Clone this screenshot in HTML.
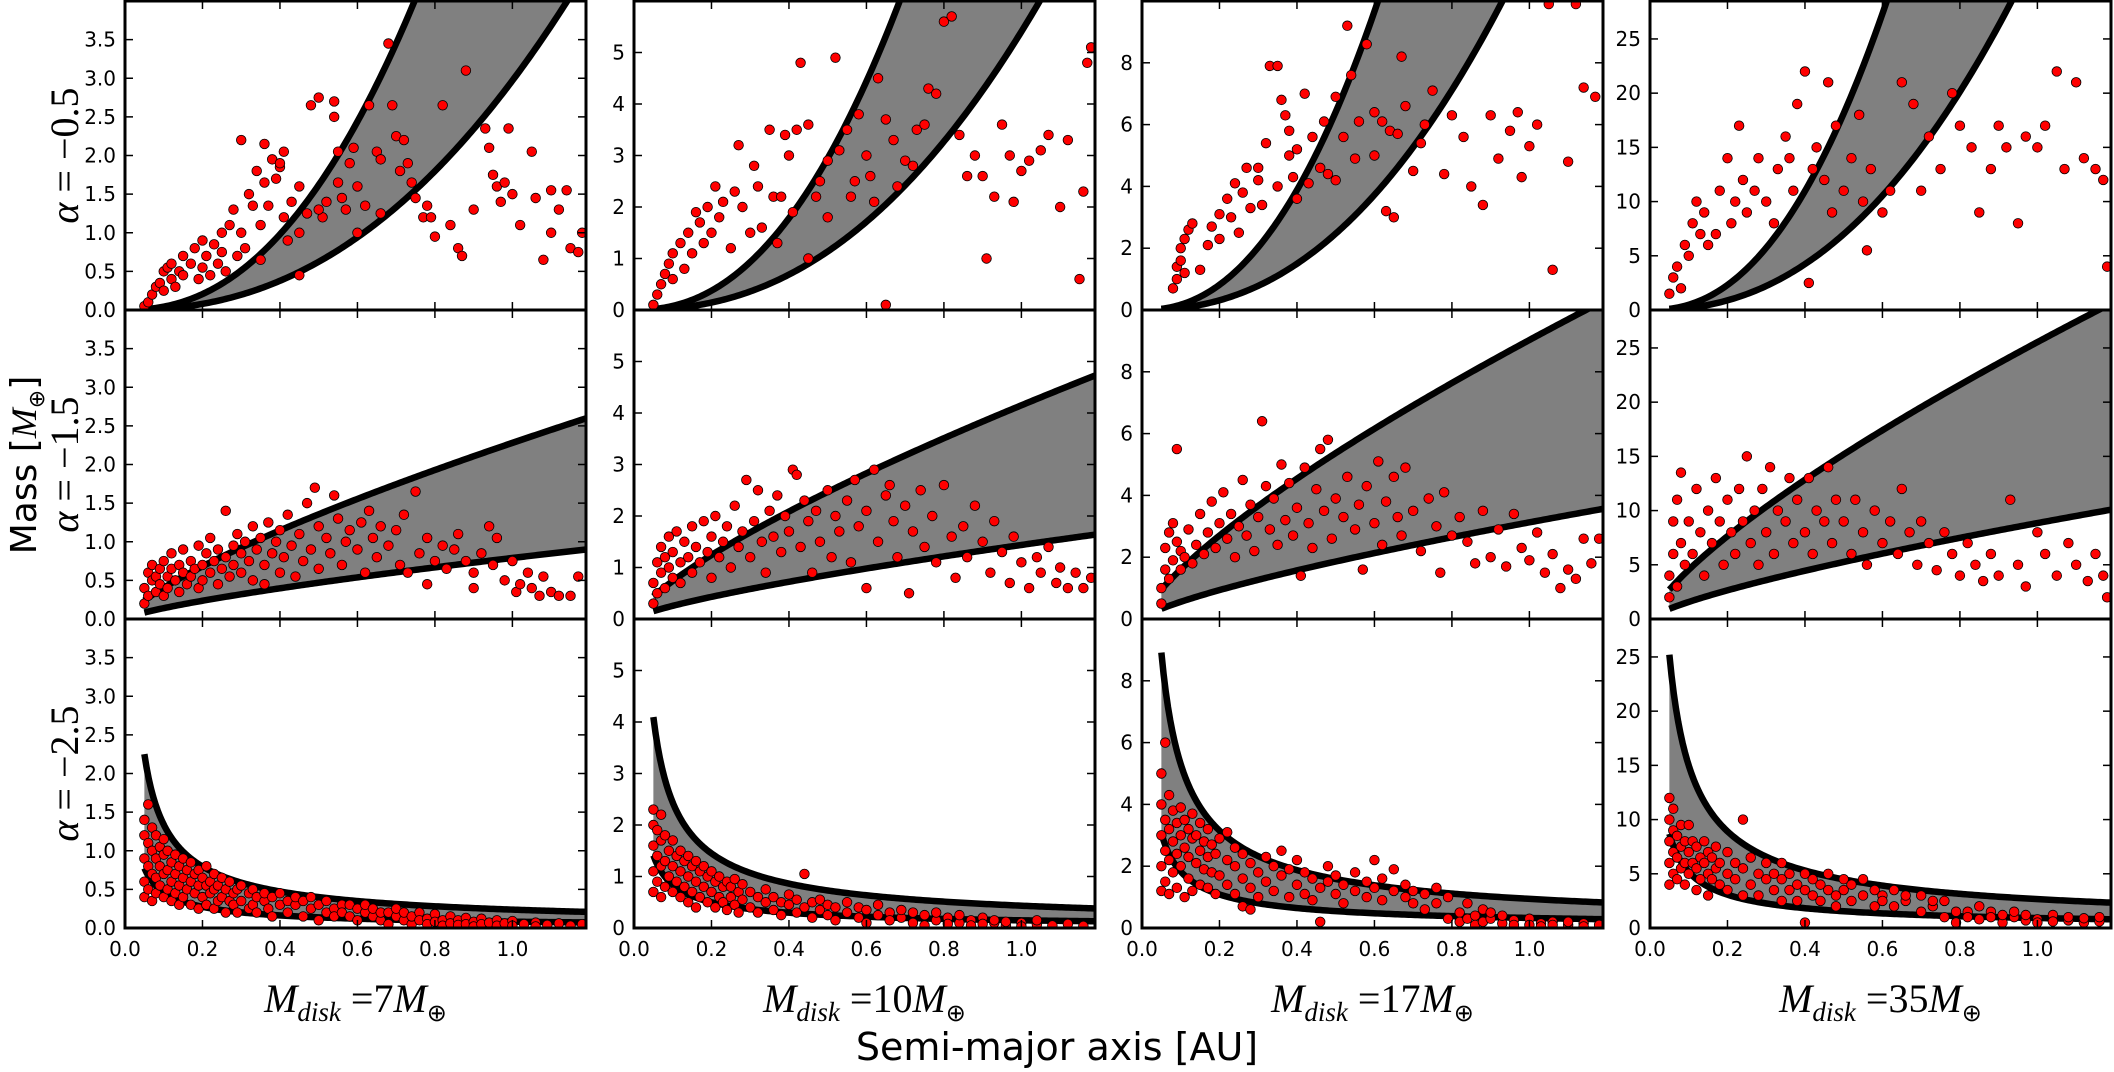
<!DOCTYPE html>
<html><head><meta charset="utf-8"><style>
html,body{margin:0;padding:0;background:#fff;}
svg{display:block;}
</style></head><body>
<svg id="chart" width="2114" height="1072" viewBox="0 0 2114 1072" xmlns="http://www.w3.org/2000/svg" font-family="'DejaVu Sans','Liberation Sans',sans-serif">
<text x="0" y="0" transform="translate(36,465) rotate(-90)" text-anchor="middle" font-size="36">Mass [<tspan font-family="'Liberation Serif',serif" font-style="italic">M</tspan><tspan font-family="'DejaVu Sans',serif" font-size="22" dy="8">⊕</tspan><tspan dy="-8">]</tspan></text>
<text x="1057" y="1060" text-anchor="middle" font-size="38">Semi-major axis [AU]</text>
</svg>
<script>
const NS="http://www.w3.org/2000/svg";
const svg=document.getElementById('chart');
// ---------- data ----------
const colMdisk=["7","10","17","35"];
const rowAlpha=["−0.5","−1.5","−2.5"];
const yMax=[4,6,10,28.5];
const yTickVals=[[0,0.5,1,1.5,2,2.5,3,3.5],[0,1,2,3,4,5],[0,2,4,6,8],[0,5,10,15,20,25]];
const yTickLabels=[["0.0","0.5","1.0","1.5","2.0","2.5","3.0","3.5"],["0","1","2","3","4","5"],["0","2","4","6","8"],["0","5","10","15","20","25"]];
const xTickVals=[0,0.2,0.4,0.6,0.8,1.0];
const xTickLabels=["0.0","0.2","0.4","0.6","0.8","1.0"];
const xMax=1.19;
const bandExponent=[2.25,0.75,-0.75];
const bandUpperK=[7.7,2.28,0.238];
const bandLowerK=[2.97,0.79,0.082];
const colScale=[1,1.82,3.96,11.2];
const aMin=0.05;

const p11=[[0.05,0.05],[0.06,0.1],[0.07,0.2],[0.08,0.3],[0.09,0.35],[0.1,0.5],[0.1,0.25],[0.11,0.55],[0.12,0.6],[0.12,0.4],[0.13,0.3],[0.14,0.5],[0.15,0.45],[0.15,0.7],[0.17,0.6],[0.18,0.8],[0.19,0.4],[0.2,0.9],[0.2,0.55],[0.21,0.7],[0.22,0.45],[0.23,0.85],[0.24,0.6],[0.25,1.0],[0.25,0.75],[0.26,0.5],[0.27,1.1],[0.28,1.3],[0.29,0.7],[0.3,1.0],[0.3,2.2],[0.31,0.8],[0.32,1.5],[0.33,1.35],[0.34,1.8],[0.35,1.1],[0.35,0.65],[0.36,2.15],[0.36,1.65],[0.37,1.35],[0.38,1.95],[0.39,1.7],[0.4,1.85],[0.4,1.9],[0.41,2.05],[0.41,1.2],[0.42,0.9],[0.43,1.4],[0.45,1.6],[0.45,1.0],[0.47,1.25],[0.48,2.65],[0.5,2.75],[0.51,1.2],[0.52,1.4],[0.54,2.7],[0.54,2.5],[0.55,2.05],[0.55,1.65],[0.56,1.45],[0.57,1.3],[0.58,1.9],[0.59,2.1],[0.6,1.6],[0.62,1.35],[0.63,2.65],[0.65,2.05],[0.66,1.95],[0.66,1.25],[0.68,3.45],[0.69,2.65],[0.7,2.25],[0.71,1.8],[0.72,2.2],[0.73,1.9],[0.74,1.65],[0.75,1.45],[0.77,1.2],[0.78,1.35],[0.79,1.2],[0.8,0.95],[0.82,2.65],[0.84,1.1],[0.86,0.8],[0.87,0.7],[0.88,3.1],[0.93,2.35],[0.94,2.1],[0.95,1.75],[0.96,1.6],[0.97,1.4],[0.98,1.65],[0.99,2.35],[1.0,1.5],[1.02,1.1],[1.05,2.05],[1.06,1.45],[1.08,0.65],[1.1,1.55],[1.12,1.3],[1.14,1.55],[1.15,0.8],[1.17,0.75],[1.18,1.0],[1.1,1.0],[0.9,1.3],[0.6,1.0],[0.5,1.3],[0.45,0.45]];
const p12=[[0.05,0.1],[0.06,0.3],[0.07,0.5],[0.08,0.7],[0.09,0.9],[0.1,0.6],[0.1,1.1],[0.12,1.3],[0.13,0.8],[0.14,1.5],[0.15,1.1],[0.16,1.9],[0.17,1.7],[0.18,1.3],[0.19,2.0],[0.2,1.5],[0.21,2.4],[0.22,1.8],[0.23,2.1],[0.25,1.2],[0.26,2.3],[0.27,3.2],[0.28,2.0],[0.3,1.5],[0.31,2.8],[0.32,2.4],[0.33,1.6],[0.35,3.5],[0.36,2.2],[0.37,1.3],[0.38,2.2],[0.39,3.4],[0.4,3.0],[0.41,1.9],[0.42,3.5],[0.43,4.8],[0.45,3.6],[0.45,1.0],[0.47,2.2],[0.48,2.5],[0.5,2.9],[0.5,1.8],[0.52,4.9],[0.53,3.1],[0.55,3.5],[0.56,2.2],[0.57,2.5],[0.58,3.8],[0.6,3.0],[0.61,2.6],[0.62,2.1],[0.63,4.5],[0.65,3.7],[0.65,0.1],[0.67,3.3],[0.68,2.4],[0.7,2.9],[0.72,2.8],[0.73,3.5],[0.75,3.6],[0.76,4.3],[0.78,4.2],[0.8,5.6],[0.82,5.7],[0.84,3.4],[0.86,2.6],[0.88,3.0],[0.9,2.6],[0.91,1.0],[0.93,2.2],[0.95,3.6],[0.97,3.0],[0.98,2.1],[1.0,2.7],[1.02,2.9],[1.05,3.1],[1.07,3.4],[1.1,2.0],[1.12,3.3],[1.15,0.6],[1.17,4.8],[1.18,5.1],[1.16,2.3]];
const p13=[[0.08,0.7],[0.09,1.0],[0.09,1.4],[0.1,1.6],[0.1,2.0],[0.11,2.3],[0.12,2.6],[0.13,2.8],[0.11,1.2],[0.15,1.3],[0.17,2.1],[0.18,2.7],[0.2,3.1],[0.2,2.3],[0.22,3.6],[0.23,3.0],[0.24,4.1],[0.25,2.5],[0.26,3.8],[0.27,4.6],[0.28,3.3],[0.3,4.2],[0.3,4.6],[0.31,3.4],[0.32,5.4],[0.33,7.9],[0.35,7.9],[0.35,4.0],[0.36,6.8],[0.37,6.3],[0.38,5.8],[0.38,5.0],[0.39,4.3],[0.4,3.6],[0.4,5.2],[0.42,7.0],[0.43,4.1],[0.44,5.6],[0.46,4.6],[0.47,6.1],[0.48,4.4],[0.5,6.9],[0.5,4.2],[0.52,5.6],[0.53,9.2],[0.54,7.6],[0.55,4.9],[0.56,6.1],[0.58,8.6],[0.6,6.4],[0.6,5.0],[0.62,6.1],[0.63,3.2],[0.64,5.8],[0.65,3.0],[0.66,5.7],[0.67,8.2],[0.68,6.6],[0.7,4.5],[0.72,5.4],[0.73,6.0],[0.75,7.1],[0.78,4.4],[0.8,6.3],[0.83,5.6],[0.85,4.0],[0.88,3.4],[0.9,6.3],[0.92,4.9],[0.95,5.8],[0.97,6.4],[0.98,4.3],[1.0,5.3],[1.02,6.0],[1.05,9.9],[1.06,1.3],[1.1,4.8],[1.14,7.2],[1.17,6.9],[1.12,9.9]];
const p14=[[0.05,1.5],[0.06,3],[0.07,4],[0.08,2],[0.09,6],[0.1,5],[0.11,8],[0.12,10],[0.13,7],[0.14,9],[0.15,6],[0.17,7],[0.18,11],[0.2,14],[0.21,8],[0.22,10],[0.23,17],[0.24,12],[0.25,9],[0.27,11],[0.28,14],[0.3,10],[0.32,8],[0.33,13],[0.35,16],[0.36,14],[0.37,11],[0.38,19],[0.4,22],[0.41,2.5],[0.42,13],[0.43,15],[0.45,12],[0.46,21],[0.47,9],[0.48,17],[0.5,11],[0.52,14],[0.54,18],[0.55,10],[0.56,5.5],[0.57,13],[0.6,9],[0.62,11],[0.65,21],[0.68,19],[0.7,11],[0.72,16],[0.75,13],[0.78,20],[0.8,17],[0.83,15],[0.85,9],[0.88,13],[0.9,17],[0.92,15],[0.95,8],[0.97,16],[1.0,15],[1.02,17],[1.05,22],[1.07,13],[1.1,21],[1.12,14],[1.15,13],[1.17,12],[1.18,4]];
const p21=[[0.05,0.2],[0.05,0.4],[0.06,0.6],[0.06,0.3],[0.07,0.5],[0.07,0.7],[0.08,0.35],[0.08,0.55],[0.09,0.65],[0.09,0.45],[0.1,0.3],[0.1,0.75],[0.11,0.55],[0.11,0.4],[0.12,0.65],[0.12,0.85],[0.13,0.5],[0.14,0.7],[0.14,0.35],[0.15,0.6],[0.15,0.9],[0.16,0.45],[0.17,0.75],[0.17,0.55],[0.18,0.65],[0.19,0.95],[0.19,0.4],[0.2,0.7],[0.2,0.5],[0.21,0.85],[0.22,0.6],[0.22,1.05],[0.23,0.75],[0.24,0.45],[0.24,0.9],[0.25,0.65],[0.26,1.4],[0.26,0.8],[0.27,0.55],[0.28,0.95],[0.28,0.7],[0.29,1.1],[0.3,0.6],[0.3,0.85],[0.31,1.0],[0.32,0.75],[0.33,1.2],[0.33,0.5],[0.34,0.9],[0.35,1.05],[0.36,0.7],[0.36,0.45],[0.37,1.25],[0.38,0.85],[0.39,1.0],[0.4,0.6],[0.4,1.15],[0.41,0.8],[0.42,1.35],[0.43,0.95],[0.44,0.55],[0.45,1.1],[0.46,0.75],[0.47,1.5],[0.48,0.9],[0.49,1.7],[0.5,1.2],[0.5,0.65],[0.52,1.05],[0.53,0.85],[0.54,1.6],[0.55,1.3],[0.56,0.7],[0.57,1.0],[0.58,1.15],[0.6,0.9],[0.61,1.25],[0.62,0.6],[0.63,1.4],[0.64,1.05],[0.65,0.8],[0.66,1.2],[0.68,0.95],[0.7,1.15],[0.71,0.7],[0.72,1.35],[0.73,0.6],[0.75,1.65],[0.76,0.85],[0.78,1.05],[0.8,0.75],[0.82,0.95],[0.83,0.65],[0.85,0.9],[0.86,1.1],[0.88,0.75],[0.9,0.6],[0.92,0.85],[0.94,1.2],[0.95,0.7],[0.96,1.05],[0.98,0.5],[1.0,0.75],[1.01,0.35],[1.02,0.45],[1.04,0.6],[1.05,0.4],[1.07,0.3],[1.08,0.55],[1.1,0.35],[1.12,0.3],[1.15,0.3],[1.17,0.55],[0.9,0.4],[0.78,0.45]];
const p22=[[0.05,0.3],[0.05,0.7],[0.06,1.1],[0.06,0.5],[0.07,1.4],[0.07,0.9],[0.08,1.2],[0.08,0.6],[0.09,1.6],[0.09,1.0],[0.1,0.8],[0.1,1.3],[0.11,1.7],[0.12,1.1],[0.12,0.7],[0.13,1.5],[0.14,1.2],[0.15,1.8],[0.15,0.9],[0.16,1.4],[0.17,1.1],[0.18,1.9],[0.19,1.3],[0.2,1.6],[0.2,0.8],[0.21,2.0],[0.22,1.2],[0.23,1.5],[0.24,1.8],[0.25,1.0],[0.26,2.2],[0.27,1.4],[0.28,1.7],[0.29,2.7],[0.3,1.2],[0.31,1.9],[0.32,2.5],[0.33,1.5],[0.34,0.9],[0.35,2.1],[0.36,1.6],[0.37,2.4],[0.38,1.3],[0.39,2.0],[0.4,1.7],[0.41,2.9],[0.42,2.8],[0.43,1.4],[0.44,2.3],[0.45,1.9],[0.46,0.9],[0.47,2.1],[0.48,1.5],[0.5,2.5],[0.51,1.2],[0.52,2.0],[0.53,1.7],[0.55,2.3],[0.56,1.1],[0.57,2.7],[0.58,1.8],[0.6,2.1],[0.6,0.6],[0.62,2.9],[0.63,1.5],[0.65,2.4],[0.66,2.6],[0.67,1.9],[0.68,1.2],[0.7,2.2],[0.71,0.5],[0.72,1.7],[0.74,2.5],[0.75,1.4],[0.77,2.0],[0.78,1.1],[0.8,2.6],[0.82,1.6],[0.83,0.8],[0.85,1.8],[0.86,1.2],[0.88,2.2],[0.9,1.5],[0.92,0.9],[0.93,1.9],[0.95,1.3],[0.97,0.7],[0.98,1.6],[1.0,1.1],[1.02,0.6],[1.04,1.2],[1.05,0.9],[1.07,1.4],[1.09,0.7],[1.1,1.0],[1.12,0.6],[1.14,0.9],[1.16,0.6],[1.18,0.8]];
const p23=[[0.05,0.5],[0.05,1.0],[0.06,1.6],[0.06,2.3],[0.07,1.3],[0.07,2.8],[0.08,1.9],[0.08,3.1],[0.09,5.5],[0.09,2.5],[0.1,1.6],[0.1,2.2],[0.11,2.0],[0.12,2.9],[0.13,1.8],[0.14,2.4],[0.15,3.4],[0.16,2.1],[0.17,2.8],[0.18,3.8],[0.19,2.3],[0.2,3.1],[0.21,4.1],[0.22,2.6],[0.23,3.4],[0.24,2.0],[0.25,3.0],[0.26,4.5],[0.27,2.7],[0.28,3.7],[0.29,2.2],[0.3,3.3],[0.31,6.4],[0.32,4.3],[0.33,2.9],[0.34,3.9],[0.35,2.4],[0.36,5.0],[0.37,3.2],[0.38,4.4],[0.39,2.7],[0.4,3.6],[0.41,1.4],[0.42,4.9],[0.43,3.1],[0.44,2.3],[0.45,4.2],[0.46,5.5],[0.47,3.5],[0.48,5.8],[0.49,2.6],[0.5,3.9],[0.52,3.3],[0.53,4.6],[0.55,2.9],[0.56,3.7],[0.57,1.6],[0.58,4.3],[0.6,3.1],[0.61,5.1],[0.62,2.4],[0.63,3.8],[0.65,4.6],[0.66,3.3],[0.67,2.7],[0.68,4.9],[0.7,3.5],[0.72,2.2],[0.74,3.9],[0.76,3.0],[0.77,1.5],[0.78,4.1],[0.8,2.7],[0.82,3.3],[0.84,2.5],[0.86,1.8],[0.88,3.5],[0.9,2.0],[0.92,2.9],[0.94,1.7],[0.96,3.4],[0.98,2.3],[1.0,1.9],[1.02,2.8],[1.04,1.5],[1.06,2.1],[1.08,1.0],[1.1,1.6],[1.12,1.3],[1.14,2.6],[1.16,1.8],[1.18,2.6]];
const p24=[[0.05,2],[0.05,4],[0.06,6],[0.06,9],[0.07,3],[0.07,11],[0.08,13.5],[0.08,7],[0.09,5],[0.1,9],[0.11,6],[0.12,12],[0.13,8],[0.14,4],[0.15,10],[0.16,7],[0.17,13],[0.18,9],[0.19,5],[0.2,11],[0.21,8],[0.22,6],[0.23,12],[0.24,9],[0.25,15],[0.26,7],[0.27,10],[0.28,5],[0.29,12],[0.3,8],[0.31,14],[0.32,6],[0.33,10],[0.35,9],[0.36,13],[0.37,7],[0.38,11],[0.4,8],[0.41,13],[0.42,6],[0.43,10],[0.45,9],[0.46,14],[0.47,7],[0.48,11],[0.5,9],[0.52,6],[0.53,11],[0.55,8],[0.56,5],[0.58,10],[0.6,7],[0.62,9],[0.64,6],[0.65,12],[0.67,8],[0.69,5],[0.7,9],[0.72,7],[0.74,4.5],[0.76,8],[0.78,6],[0.8,4],[0.82,7],[0.84,5],[0.86,3.5],[0.88,6],[0.9,4],[0.93,11],[0.95,5],[0.97,3],[1.0,8],[1.02,6],[1.05,4],[1.08,7],[1.1,5],[1.13,3.5],[1.15,6],[1.17,4],[1.18,2]];
// bottom row: [a, [masses at that a]]
const p31=[[0.05,[0.4,0.6,0.9,1.2,1.4]],[0.06,[0.5,0.8,1.1,1.6]],[0.07,[0.35,0.7,1.0,1.3]],[0.08,[0.45,0.65,0.9,1.2]],[0.09,[0.55,0.8,1.05]],[0.10,[0.4,0.7,0.95,1.15]],[0.11,[0.5,0.75,1.0]],[0.12,[0.35,0.6,0.85]],[0.13,[0.45,0.7,0.95]],[0.14,[0.3,0.55,0.8]],[0.15,[0.4,0.65,0.9]],[0.16,[0.5,0.75]],[0.17,[0.3,0.6,0.85]],[0.18,[0.45,0.7]],[0.19,[0.25,0.55,0.75]],[0.20,[0.4,0.65]],[0.21,[0.3,0.55,0.8]],[0.22,[0.45,0.6]],[0.23,[0.25,0.5,0.7]],[0.24,[0.35,0.55]],[0.25,[0.4,0.65]],[0.26,[0.2,0.5]],[0.27,[0.35,0.6]],[0.28,[0.45,0.3]],[0.29,[0.2,0.5]],[0.30,[0.35,0.55]],[0.32,[0.25,0.45]],[0.33,[0.5,0.3]],[0.34,[0.2,0.4]],[0.36,[0.35,0.45]],[0.37,[0.25]],[0.38,[0.4,0.15]],[0.40,[0.3,0.45]],[0.42,[0.2,0.35]],[0.44,[0.3,0.4]],[0.46,[0.15,0.35]],[0.48,[0.25,0.4]],[0.50,[0.3,0.1]],[0.52,[0.2,0.35]],[0.54,[0.25,0.15]],[0.56,[0.3,0.2]],[0.58,[0.15,0.3]],[0.60,[0.25,0.1]],[0.62,[0.2,0.3]],[0.64,[0.15,0.25]],[0.66,[0.1,0.2]],[0.68,[0.2,0.05]],[0.70,[0.15,0.25]],[0.72,[0.1,0.2]],[0.74,[0.05,0.15]],[0.76,[0.2,0.1]],[0.78,[0.12,0.05]],[0.80,[0.18,0.08]],[0.82,[0.1,0.03]],[0.84,[0.15,0.06]],[0.86,[0.1,0.04]],[0.88,[0.13,0.05]],[0.90,[0.08,0.02]],[0.92,[0.12,0.05]],[0.94,[0.07]],[0.96,[0.1,0.03]],[0.98,[0.06]],[1.00,[0.09,0.03]],[1.03,[0.05]],[1.06,[0.07,0.02]],[1.09,[0.04]],[1.12,[0.06]],[1.15,[0.03]],[1.18,[0.05]]];
const p32=[[0.05,[0.7,1.1,1.6,2.0,2.3]],[0.06,[0.9,1.4,1.9]],[0.07,[0.6,1.2,1.7,2.2]],[0.08,[0.8,1.3,1.8]],[0.09,[1.0,1.5]],[0.10,[0.7,1.2,1.7]],[0.11,[0.9,1.4]],[0.12,[0.6,1.1,1.5]],[0.13,[0.8,1.3]],[0.14,[0.5,1.0,1.4]],[0.15,[0.7,1.2]],[0.16,[0.4,0.9,1.3]],[0.17,[0.6,1.1]],[0.18,[0.8,1.2]],[0.19,[0.5,1.0]],[0.20,[0.7,1.1]],[0.21,[0.4,0.9]],[0.22,[0.6,1.0]],[0.23,[0.8,0.5]],[0.24,[0.35,0.9]],[0.25,[0.6,0.8]],[0.26,[0.45,0.95]],[0.27,[0.7,0.3]],[0.28,[0.55,0.85]],[0.30,[0.4,0.7]],[0.32,[0.6,0.3]],[0.34,[0.5,0.75]],[0.36,[0.35,0.6]],[0.38,[0.5,0.25]],[0.40,[0.45,0.65]],[0.42,[0.3,0.55]],[0.44,[0.4,1.05]],[0.46,[0.2,0.5]],[0.48,[0.35,0.55]],[0.50,[0.25,0.45]],[0.52,[0.4,0.15]],[0.55,[0.3,0.5]],[0.58,[0.2,0.4]],[0.60,[0.35,0.1]],[0.63,[0.25,0.45]],[0.66,[0.3,0.15]],[0.69,[0.2,0.35]],[0.72,[0.1,0.3]],[0.75,[0.25,0.05]],[0.78,[0.15,0.3]],[0.81,[0.2,0.08]],[0.84,[0.1,0.25]],[0.87,[0.15,0.05]],[0.90,[0.2,0.08]],[0.93,[0.1,0.15]],[0.96,[0.05,0.12]],[1.00,[0.1,0.03]],[1.04,[0.07,0.15]],[1.08,[0.05]],[1.12,[0.08]],[1.16,[0.04]]];
const p33=[[0.05,[1.2,2.0,3.0,4.0,5.0]],[0.06,[1.5,2.5,3.5,6.0]],[0.07,[1.1,2.2,3.2,4.3]],[0.08,[1.8,2.8,3.8]],[0.09,[1.3,2.4,3.4]],[0.10,[2.0,3.0,3.9]],[0.11,[1.0,2.6,3.5]],[0.12,[1.6,2.3,3.2]],[0.13,[1.2,2.9,3.7]],[0.14,[2.1,3.0]],[0.15,[1.4,2.5,3.4]],[0.16,[1.9,2.8]],[0.17,[1.3,2.3,3.2]],[0.18,[1.8,2.7]],[0.19,[1.1,2.4]],[0.20,[1.7,2.9]],[0.22,[1.4,2.2,3.1]],[0.24,[1.1,2.0,2.6]],[0.26,[0.7,1.6,2.4]],[0.28,[1.3,2.1,0.6]],[0.30,[1.8,1.0]],[0.32,[1.5,2.3]],[0.34,[1.2,2.0]],[0.36,[1.7,2.5]],[0.38,[1.0,1.9]],[0.40,[1.4,2.2]],[0.42,[1.1,1.8]],[0.44,[1.6,0.9]],[0.46,[0.2,1.3]],[0.48,[1.5,2.0]],[0.50,[1.1,1.7]],[0.52,[1.4,0.8]],[0.55,[1.2,1.8]],[0.58,[1.0,1.5]],[0.60,[1.3,2.2]],[0.62,[0.9,1.6]],[0.65,[1.2,1.9]],[0.68,[1.0,1.4]],[0.70,[0.8,1.2]],[0.73,[1.1,0.6]],[0.76,[0.8,1.3]],[0.79,[0.3,1.0]],[0.82,[0.5,0.2]],[0.84,[0.8,0.3]],[0.86,[0.4,0.1]],[0.88,[0.6,0.2]],[0.90,[0.3,0.5]],[0.93,[0.15,0.4]],[0.96,[0.25,0.1]],[1.00,[0.3,0.1]],[1.03,[0.15,0.05]],[1.06,[0.2,0.1]],[1.10,[0.1,0.2]],[1.14,[0.15,0.05]],[1.18,[0.1]]];
const p34=[[0.05,[4,6,8,10,12]],[0.06,[5,7,9,11]],[0.07,[4.5,6.5,8.5]],[0.08,[5.5,7.5,9.5]],[0.09,[4,6,8]],[0.10,[5,7,9.5]],[0.11,[6,8]],[0.12,[3.5,5.5,7.5]],[0.13,[4.5,6.5]],[0.14,[6,8]],[0.15,[3,5,7]],[0.16,[4.5,6.5]],[0.17,[5.5,7.5]],[0.18,[4,6]],[0.20,[3.5,5,7]],[0.22,[4.5,6]],[0.24,[3,5.5,10]],[0.26,[4,6.5]],[0.28,[3,5]],[0.30,[4.5,6]],[0.32,[3.5,5]],[0.34,[2.5,4.5,6]],[0.36,[3.5,5]],[0.38,[2.5,4]],[0.40,[0.5,3.5,5]],[0.42,[3,4.5]],[0.44,[2.5,4]],[0.46,[3.5,5]],[0.48,[2,3]],[0.50,[3.5,4.5]],[0.52,[2.5,4]],[0.55,[3,4.5]],[0.58,[2,3.5]],[0.60,[3,2.5]],[0.63,[2,3.5]],[0.66,[2.5,3]],[0.70,[1.5,3]],[0.73,[2,2.5]],[0.76,[1,2.5]],[0.79,[0.5,1.5]],[0.82,[1.5,1]],[0.85,[2,0.8]],[0.88,[1.5,1]],[0.91,[0.5,1.2]],[0.94,[1,1.5]],[0.97,[0.7,1.2]],[1.00,[0.8,0.5]],[1.04,[1.2,0.6]],[1.08,[0.7,1]],[1.12,[0.5,0.9]],[1.16,[0.6,1]]];

const flat=g=>{const o=[];g.forEach(([a,ms])=>ms.forEach(m=>o.push([a,m])));return o;};
const pointsGrid=[[p11,p12,p13,p14],[p21,p22,p23,p24],[flat(p31),flat(p32),flat(p33),flat(p34)]];

// ---------- layout ----------
const colLeft=[125,634,1142,1650], PW=461, PH=309, rowTop=[1,310,619];
function mk(tag,attrs,parent){const e=document.createElementNS(NS,tag);for(const k in attrs)e.setAttribute(k,attrs[k]);(parent||svg).appendChild(e);return e;}

const defs=mk('defs',{});
for(let r=0;r<3;r++){
  for(let c=0;c<4;c++){
    const L=colLeft[c],T=rowTop[r];
    const xS=a=>L+a/xMax*PW;
    const yS=m=>T+PH-m/yMax[c]*PH;
    const cp=mk('clipPath',{id:`cp${r}${c}`},defs);
    mk('rect',{x:L,y:T,width:PW,height:PH},cp);
    const g=mk('g',{});
    
    
    const clipG=mk('g',{'clip-path':`url(#cp${r}${c})`},g);
    // band
    const up=[],lo=[];
    for(let i=0;i<=200;i++){
      const a=aMin+(xMax-aMin)*i/200;
      up.push([xS(a),yS(bandUpperK[r]*colScale[c]*Math.pow(a,bandExponent[r]))]);
      lo.push([xS(a),yS(bandLowerK[r]*colScale[c]*Math.pow(a,bandExponent[r]))]);
    }
    const band=mk('path',{d:'M'+up.map(p=>p.join(',')).join('L')+'L'+lo.slice().reverse().map(p=>p.join(',')).join('L')+'Z',fill:'#808080',stroke:'none'},clipG);
    
    
    const cu=mk('path',{d:'M'+up.map(p=>p.join(',')).join('L'),fill:'none',stroke:'#000','stroke-width':6.5},clipG);
    
    
    const cl=mk('path',{d:'M'+lo.map(p=>p.join(',')).join('L'),fill:'none',stroke:'#000','stroke-width':6.5},clipG);
    
    
    pointsGrid[r][c].forEach(([a,m])=>{
      const pt=mk('circle',{cx:xS(a),cy:yS(m),r:4.8,fill:'#ff0000',stroke:'#000','stroke-width':0.8},clipG);
      
      
    });
    // frame
    const fr=mk('rect',{x:L,y:T,width:PW,height:PH,fill:'none',stroke:'#000','stroke-width':3},g);
    
    
    // y ticks
    yTickVals[c].forEach((v,i)=>{
      const y=yS(v);
      mk('line',{x1:L,x2:L+8,y1:y,y2:y,stroke:'#000','stroke-width':1.5},g);
      mk('line',{x1:L+PW-8,x2:L+PW,y1:y,y2:y,stroke:'#000','stroke-width':1.5},g);
      const t=mk('text',{x:L-9,y:y+7,'text-anchor':'end','font-size':20},g);
      
      
      t.textContent=yTickLabels[c][i];
    });
    // x ticks
    xTickVals.forEach((v,i)=>{
      const x=xS(v);
      mk('line',{x1:x,x2:x,y1:T+PH-8,y2:T+PH,stroke:'#000','stroke-width':1.5},g);
      mk('line',{x1:x,x2:x,y1:T,y2:T+8,stroke:'#000','stroke-width':1.5},g);
      if(r===2){
        const t=mk('text',{x:x,y:T+PH+28,'text-anchor':'middle','font-size':20},g);
        
        
        t.textContent=xTickLabels[i];
      }
    });
  }
}
// row labels
rowAlpha.forEach((s,r)=>{
  const t=mk('text',{transform:`translate(78,${rowTop[r]+PH/2}) rotate(-90)`,'text-anchor':'middle','font-size':40,'font-family':"'Liberation Serif',serif"});
  
  
  t.innerHTML=`<tspan font-style="italic">α</tspan> = ${s}`;
});
// column labels
colMdisk.forEach((s,c)=>{
  const t=mk('text',{x:colLeft[c]+PW/2,y:1012,'text-anchor':'middle','font-size':40,'font-family':"'Liberation Serif',serif"});
  
  
  t.innerHTML=`<tspan font-style="italic">M</tspan><tspan font-style="italic" font-size="27" dy="9">disk</tspan><tspan dy="-9"> =${s}</tspan><tspan font-style="italic">M</tspan><tspan font-family="'DejaVu Sans',serif" font-size="24" dy="9">⊕</tspan>`;
});
</script>
</body></html>
